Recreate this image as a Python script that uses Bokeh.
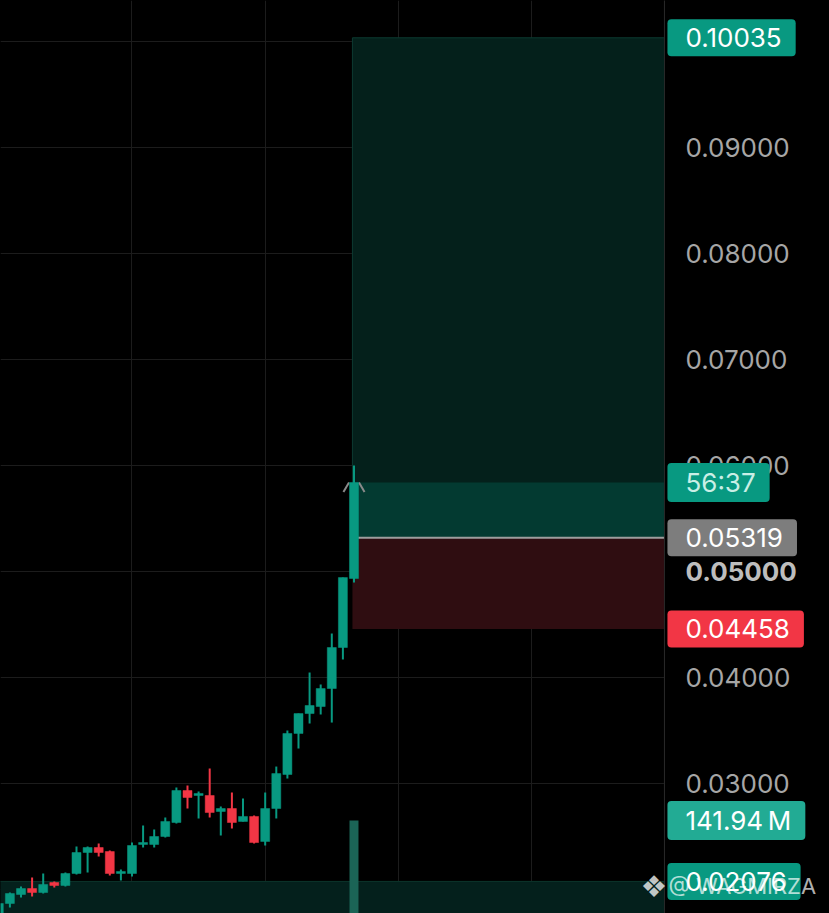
from bokeh.plotting import figure
from bokeh.models import Range1d, FixedTicker, Grid, ColumnDataSource
from bokeh.core.properties import value
from bokeh.embed import file_html
from bokeh.resources import INLINE

# ---- data ----
idx = list(range(33))
opens = [0.01755, 0.01868, 0.01953, 0.02009, 0.01972, 0.02066, 0.02038, 0.02151,
         0.02349, 0.02396, 0.02358, 0.02151, 0.02151, 0.02425, 0.02425, 0.02500,
         0.02632, 0.02934, 0.02887, 0.02887, 0.02736, 0.02764, 0.02642, 0.02689,
         0.02453, 0.02764, 0.03085, 0.03472, 0.03660, 0.03726, 0.03896, 0.04283,
         0.04934]
highs = [0.01896, 0.01972, 0.02028, 0.02113, 0.02151, 0.02075, 0.02160, 0.02406,
         0.02406, 0.02434, 0.02368, 0.02189, 0.02443, 0.02604, 0.02566, 0.02679,
         0.02962, 0.02981, 0.02925, 0.03142, 0.02783, 0.02915, 0.02858, 0.02698,
         0.02915, 0.03160, 0.03500, 0.03660, 0.04047, 0.03934, 0.04415, 0.04943,
         0.06000]
lows = [0.01726, 0.01830, 0.01925, 0.01934, 0.01962, 0.02019, 0.02028, 0.02142,
        0.02160, 0.02311, 0.02132, 0.02085, 0.02123, 0.02396, 0.02396, 0.02491,
        0.02623, 0.02764, 0.02670, 0.02679, 0.02509, 0.02575, 0.02642, 0.02434,
        0.02415, 0.02670, 0.03047, 0.03330, 0.03566, 0.03651, 0.03575, 0.04170,
        0.04896]
closes = [0.01868, 0.01962, 0.02009, 0.01972, 0.02047, 0.02038, 0.02151, 0.02349,
          0.02396, 0.02349, 0.02151, 0.02170, 0.02415, 0.02443, 0.02500, 0.02642,
          0.02934, 0.02868, 0.02906, 0.02726, 0.02764, 0.02632, 0.02689, 0.02443,
          0.02764, 0.03094, 0.03472, 0.03660, 0.03736, 0.03896, 0.04283, 0.04943,
          0.05840]

volume_index = [32]
volume_values = [141.94e6]

entry_index = 32
entry_price = 0.05319
target_price = 0.10035
stop_price = 0.04458
range_low = 0.02076
countdown = "56:37"
volume_label = "141.94\u2009M"
watermark = "@ WAGMIRZA"

axis_ticks = [0.03, 0.04, 0.06, 0.07, 0.08, 0.09]
bold_tick = 0.05
grid_price_ticks = [0.02, 0.03, 0.04, 0.05, 0.06, 0.07, 0.08, 0.09, 0.10]
grid_time_ticks = [12, 24, 36, 48]

UP = "#089981"
DOWN = "#f23645"
FONT = "Inter"

# ---- figure ----
x0, x_end = 0.153, 74.84
axis_x = 59.97          # right edge of the price pane
p = figure(width=829, height=913, output_backend="svg", toolbar_location=None,
           x_range=Range1d(x0, x_end), y_range=Range1d(0.017736, 0.103868),
           x_axis_location=None, y_axis_location=None,
           min_border=0,
           background_fill_color="#000000", border_fill_color="#000000",
           outline_line_color=None)
p.center = []
p.extra_y_ranges = {"vol": Range1d(0, 1393.5e6)}

p.add_layout(Grid(dimension=0, ticker=FixedTicker(ticks=grid_time_ticks),
                  grid_line_color="#1c1c1c", grid_line_width=1))
p.add_layout(Grid(dimension=1, ticker=FixedTicker(ticks=grid_price_ticks),
                  grid_line_color="#1c1c1c", grid_line_width=1))

# position zones
left = entry_index - 0.14
p.quad(left=[left], right=[axis_x], bottom=[entry_price], top=[target_price],
       fill_color="#04201b", line_color="#0c3a31", line_width=1)
p.quad(left=[left], right=[axis_x], bottom=[entry_price], top=[closes[-1]],
       fill_color="#033a31", line_color=None)
p.quad(left=[left], right=[axis_x], bottom=[stop_price], top=[entry_price],
       fill_color="#2f0d11", line_color=None)
p.segment(x0=[left], x1=[axis_x], y0=[entry_price], y1=[entry_price],
          line_color="#9e9e9e", line_width=2)

# bottom range band
p.quad(left=[x0 - 5], right=[axis_x], bottom=[0.0], top=[range_low],
       fill_color="#04201c", line_color="#0b332b", line_width=1)

# volume
p.vbar(x=volume_index, width=0.81, top=volume_values, bottom=0,
       y_range_name="vol", fill_color="#1b6456", line_color=None)

# handle marks around the last candle top
lc = closes[-1]
p.segment(x0=[entry_index - 0.95, entry_index + 0.45],
          x1=[entry_index - 0.45, entry_index + 0.95],
          y0=[lc - 0.0009, lc], y1=[lc, lc - 0.0009],
          line_color="#8a8a8a", line_width=2)

# candles
colors = [UP if c >= o else DOWN for o, c in zip(opens, closes)]
src = ColumnDataSource(dict(x=idx, o=opens, h=highs, l=lows, c=closes,
                            top=[max(o, c) for o, c in zip(opens, closes)],
                            bot=[min(o, c) for o, c in zip(opens, closes)],
                            col=colors))
p.segment(x0="x", x1="x", y0="l", y1="h", line_color="col", line_width=2, source=src)
p.vbar(x="x", width=0.81, top="top", bottom="bot", fill_color="col",
       line_color="col", line_width=0.5, source=src)

# price-scale area: mask grid, border line
p.quad(left=[axis_x], right=[x_end + 5], bottom=[0.0], top=[1.0],
       fill_color="#000000", line_color=None)
p.segment(x0=[axis_x], x1=[axis_x], y0=[0.0], y1=[1.0],
          line_color="#2a2a2a", line_width=1)

# price-scale labels
p.text(x=[axis_x] * len(axis_ticks), y=axis_ticks,
       text=["%.5f" % t for t in axis_ticks], x_offset=21,
       text_align="left", text_baseline="middle", text_font=value(FONT),
       text_font_size="26px", text_color="#a6a6a6")
p.text(x=[axis_x], y=[bold_tick], text=["%.5f" % bold_tick], x_offset=21,
       text_align="left", text_baseline="middle", text_font=value(FONT),
       text_font_style="bold", text_font_size="26px", text_color="#bdbdbd")

pad_price = dict(left=18, right=14, top=9, bottom=9)
pad_other = dict(left=18, right=14, top=4, bottom=4)


def tag(y, text, bg, color="#ffffff", rng="default", pad=pad_price):
    p.text(x=[axis_x], y=[y], text=[text], x_offset=3, y_range_name=rng,
           text_align="left", text_baseline="middle", text_font=value(FONT),
           text_font_size="26px", text_color=color,
           background_fill_color=bg, padding=pad, border_radius=4)


tag(target_price, "%.5f" % target_price, UP)
tag(lc, countdown, UP, color="#c9efe6", pad=pad_other)
tag(entry_price, "%.5f" % entry_price, "#7d7d7d")
tag(stop_price, "%.5f" % stop_price, DOWN)
tag(volume_values[0], volume_label, "#22ab94", rng="vol", pad=pad_other)
tag(range_low, "%.5f" % range_low, UP)

# watermark
p.text(x=[axis_x], y=[range_low - 0.00045], text=["\u2756"], x_offset=-24,
       text_align="left", text_baseline="middle", text_font=value("DejaVu Sans"),
       text_font_size="30px", text_color="#ffffff", text_alpha=0.75)
p.text(x=[axis_x], y=[range_low - 0.00045], text=[watermark], x_offset=4,
       text_align="left", text_baseline="middle", text_font=value(FONT),
       text_font_size="22px", text_color="#ffffff", text_alpha=0.7)

html = file_html(p, INLINE)
html = html.replace("</head>", "<style>html,body{background:#000;}</style></head>")
open("out.html", "w").write(html)
